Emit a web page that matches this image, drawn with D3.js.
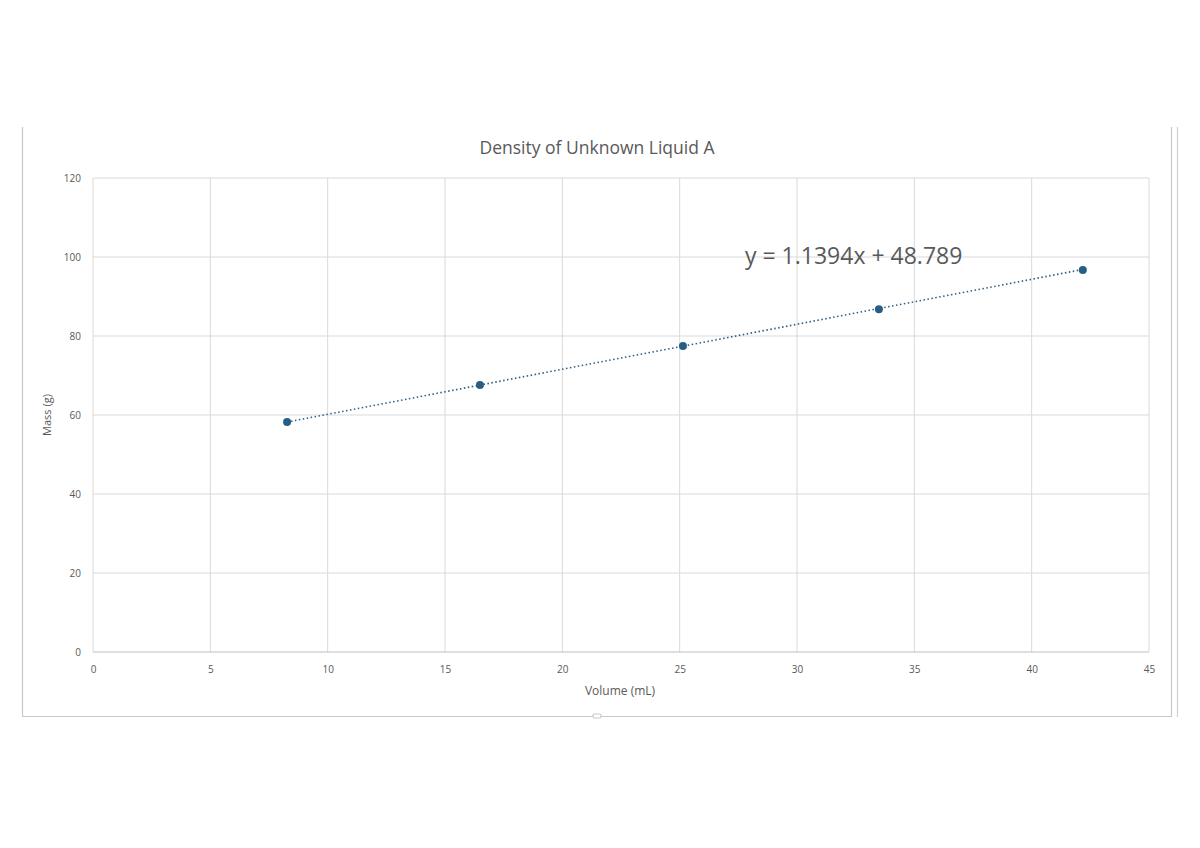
<!DOCTYPE html>
<html><head><meta charset="utf-8">
<script src="https://cdn.jsdelivr.net/npm/d3@7"></script>
<style>body{margin:0;background:#fff}svg{display:block}</style>
</head><body>
<svg id="c" width="1200" height="848"></svg>
<script>
const volume = [8.27, 16.49, 25.14, 33.49, 42.18];
const mass = [58.2, 67.6, 77.5, 86.8, 96.7];
const xTicks = [0, 5, 10, 15, 20, 25, 30, 35, 40, 45];
const yTicks = [0, 20, 40, 60, 80, 100, 120];
const slope = 1.1394, intercept = 48.789;
const title = "Density of Unknown Liquid A";
const xLabel = "Volume (mL)";
const yLabel = "Mass (g)";
const eqText = "y = 1.1394x + 48.789";

const svg = d3.select("#c");
const font = "'Open Sans', 'Noto Sans', sans-serif";
const x = d3.scaleLinear().domain([0, 45]).range([93, 1149]);
const y = d3.scaleLinear().domain([0, 120]).range([652, 178]);

// chart frame
const fr = svg.append("g").attr("fill", "none").attr("stroke", "#c8c8c8").attr("stroke-width", 1.2);
fr.append("path").attr("d", "M22.5,127 L22.5,716.5 L1171.5,716.5 L1171.5,127");
fr.append("line").attr("x1", 1177.5).attr("x2", 1177.5).attr("y1", 127).attr("y2", 717).attr("stroke", "#d0d0d0");
fr.append("rect").attr("x", 593).attr("y", 714).attr("width", 8).attr("height", 4).attr("rx", 1.5).attr("fill", "#fff");

// gridlines
const grid = svg.append("g").attr("stroke", "#d9d9d9").attr("stroke-width", 1);
grid.selectAll(".gx").data(xTicks).join("line")
  .attr("x1", d => x(d)).attr("x2", d => x(d)).attr("y1", y(120)).attr("y2", y(0));
grid.selectAll(".gy").data(yTicks).join("line")
  .attr("x1", x(0)).attr("x2", x(45)).attr("y1", d => y(d)).attr("y2", d => y(d))
  .attr("stroke", d => d === 0 ? "#bfbfbf" : "#d9d9d9");

// axes (labels only)
const xAxis = svg.append("g").attr("transform", `translate(0,${y(0)})`)
  .call(d3.axisBottom(x).tickValues(xTicks).tickSize(0).tickPadding(14));
xAxis.select(".domain").remove();
xAxis.selectAll("text").attr("fill", "#595959").attr("font-size", 10).attr("font-family", font);

const yAxis = svg.append("g").attr("transform", `translate(${x(0)},0)`)
  .call(d3.axisLeft(y).tickValues(yTicks).tickSize(0).tickPadding(12));
yAxis.select(".domain").remove();
yAxis.selectAll("text").attr("fill", "#595959").attr("font-size", 10).attr("font-family", font);

// trendline
const x0 = d3.min(volume), x1 = d3.max(volume);
svg.append("line")
  .attr("x1", x(x0)).attr("y1", y(slope * x0 + intercept))
  .attr("x2", x(x1)).attr("y2", y(slope * x1 + intercept))
  .attr("stroke", "#2f5f80").attr("stroke-width", 1.6).attr("stroke-dasharray", "1.5,2.5");

// points
svg.selectAll(".pt").data(volume).join("circle")
  .attr("cx", d => x(d)).attr("cy", (d, i) => y(mass[i])).attr("r", 4)
  .attr("fill", "#265e85");

// text
svg.append("text").attr("x", 597).attr("y", 154).attr("text-anchor", "middle")
  .attr("font-family", font).attr("font-size", 17.5).attr("fill", "#595959").text(title);
svg.append("text").attr("x", 620).attr("y", 695).attr("text-anchor", "middle")
  .attr("font-family", font).attr("font-size", 12).attr("fill", "#595959").text(xLabel);
svg.append("text").attr("transform", "translate(51,415) rotate(-90)").attr("text-anchor", "middle")
  .attr("font-family", font).attr("font-size", 11).attr("fill", "#595959").text(yLabel);
svg.append("text").attr("x", 745).attr("y", 264)
  .attr("font-family", font).attr("font-size", 23).attr("fill", "#595959").text(eqText);
</script>
</body></html>
